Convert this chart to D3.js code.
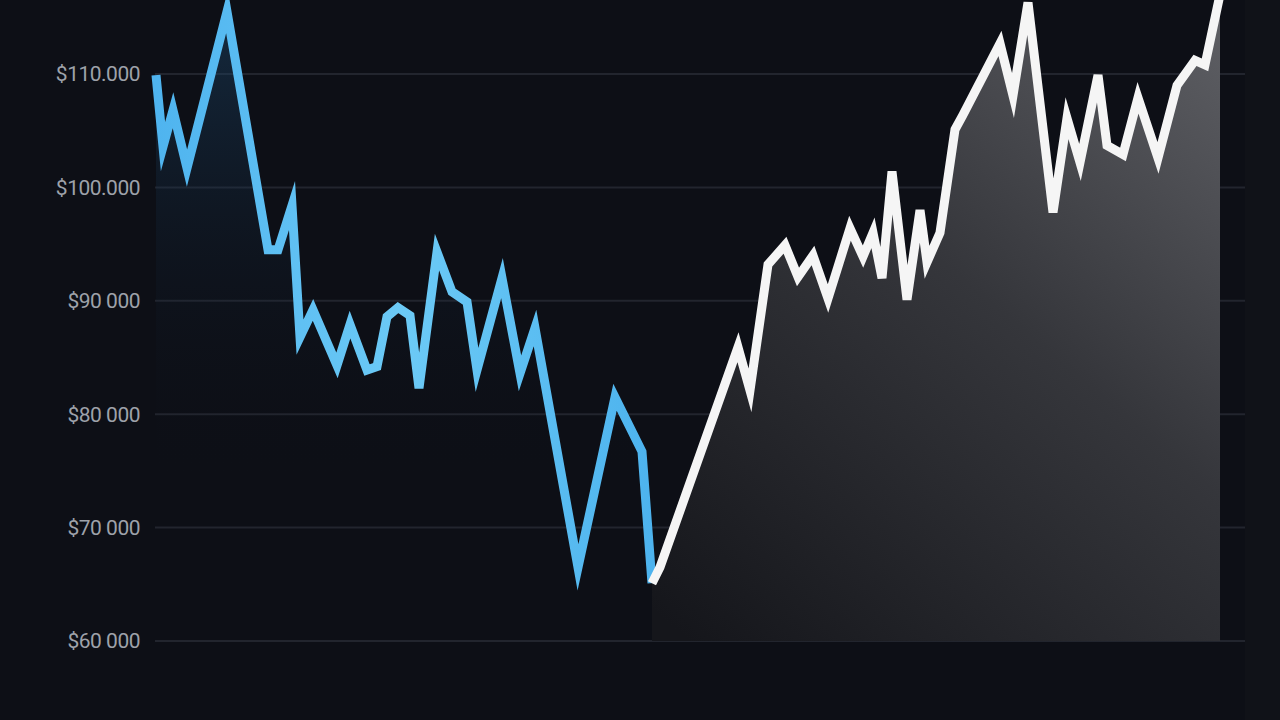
<!DOCTYPE html>
<html>
<head>
<meta charset="utf-8">
<script src="https://cdn.jsdelivr.net/npm/d3@7"></script>
<style>
html,body{margin:0;padding:0;background:#0d0f16;}
svg{display:block;}
</style>
</head>
<body>
<svg id="chart" width="1280" height="720"></svg>
<script>
// ---- data (values in thousands of dollars, t = trading-day offset) ----
const tickValues = [110, 100, 90, 80, 70, 60];
const tickLabels = ["$110.000", "$100.000", "$90 000", "$80 000", "$70 000", "$60 000"];

const downDays = [0,7,17,31,71,112,122,136,144,157,181,194,211,221,231,242,254,263,281,296,311,321,346,364,379,422,459,486,496];
const downValues = [109.9,103.6,106.8,101.7,115.5,94.5,94.5,98.4,86.8,89.2,84.3,87.9,83.9,84.2,88.6,89.4,88.7,82.3,94.3,90.8,89.9,83.9,92.0,83.6,87.6,66.5,81.5,76.7,65.1];

const upDays = [496,504,582,594,612,629,642,657,672,694,707,717,726,736,751,764,771,784,799,807,844,857,872,897,911,924,942,951,967,982,1002,1021,1039,1049,1064];
const upValues = [65.1,66.5,85.9,82.1,93.2,94.9,92.1,94.0,90.2,96.4,93.9,96.0,92.0,101.4,90.1,98.0,93.4,96.0,105.1,106.4,112.7,108.1,116.3,97.8,106.1,102.2,109.9,103.7,102.9,107.9,102.6,109.0,111.2,110.8,117.0];

const downSeries = downDays.map((d, i) => ({t: d, v: downValues[i]}));
const upSeries = upDays.map((d, i) => ({t: d, v: upValues[i]}));

const svg = d3.select("#chart");
const W = 1280, H = 720;

const x = d3.scaleLinear().domain([0, 1064]).range([156, 1220]);
const y = d3.scaleLinear().domain([60, 110]).range([641, 74]);

// background
svg.append("rect").attr("width", W).attr("height", H).attr("fill", "#0d0f16");
svg.append("rect").attr("x", 1245).attr("width", 35).attr("height", H).attr("fill", "#101218");

const defs = svg.append("defs");
const gUp = defs.append("linearGradient").attr("id", "upFill")
  .attr("gradientUnits", "userSpaceOnUse")
  .attr("x1", 1230).attr("y1", 20).attr("x2", 700).attr("y2", 650);
gUp.append("stop").attr("offset", "0").attr("stop-color", "#5e5f64");
gUp.append("stop").attr("offset", "0.45").attr("stop-color", "#35363b");
gUp.append("stop").attr("offset", "1").attr("stop-color", "#15161b");

const gDown = defs.append("linearGradient").attr("id", "downFill")
  .attr("gradientUnits", "userSpaceOnUse")
  .attr("x1", 0).attr("y1", 40).attr("x2", 0).attr("y2", 480);
gDown.append("stop").attr("offset", "0").attr("stop-color", "#1d4a70").attr("stop-opacity", 0.4);
gDown.append("stop").attr("offset", "0.5").attr("stop-color", "#15304a").attr("stop-opacity", 0.15);
gDown.append("stop").attr("offset", "1").attr("stop-color", "#0d0f16").attr("stop-opacity", 0);

const gLine = defs.append("linearGradient").attr("id", "blueLine")
  .attr("gradientUnits", "userSpaceOnUse")
  .attr("x1", 156).attr("y1", 0).attr("x2", 652).attr("y2", 0);
gLine.append("stop").attr("offset", "0").attr("stop-color", "#4fb4ef");
gLine.append("stop").attr("offset", "0.5").attr("stop-color", "#6ccaf6");
gLine.append("stop").attr("offset", "1").attr("stop-color", "#4db3ee");

// gridlines
svg.append("g").selectAll("line").data(tickValues).join("line")
  .attr("x1", 155).attr("x2", 1245)
  .attr("y1", d => y(d)).attr("y2", d => y(d))
  .attr("stroke", "#22252e").attr("stroke-width", 2);

// axis labels
svg.append("g").selectAll("text").data(tickValues).join("text")
  .attr("x", 140).attr("y", d => y(d))
  .attr("dy", "0.35em")
  .attr("text-anchor", "end")
  .attr("font-family", "Roboto, 'DejaVu Sans', sans-serif")
  .attr("font-size", 21)
  .attr("letter-spacing", "-0.5")
  .attr("fill", "#9ea2aa")
  .text((d, i) => tickLabels[i]);

const area = d3.area().x(d => x(d.t)).y0(y(60)).y1(d => y(d.v));
const line = d3.line().x(d => x(d.t)).y(d => y(d.v));

svg.append("path").datum(downSeries).attr("d", area).attr("fill", "url(#downFill)");
svg.append("path").datum(upSeries).attr("d", area).attr("fill", "url(#upFill)");

svg.append("path").datum(downSeries).attr("d", line)
  .attr("fill", "none").attr("stroke", "url(#blueLine)")
  .attr("stroke-width", 9).attr("stroke-linejoin", "miter").attr("stroke-miterlimit", 6);
svg.append("path").datum(upSeries).attr("d", line)
  .attr("fill", "none").attr("stroke", "#f5f5f5")
  .attr("stroke-width", 9).attr("stroke-linejoin", "miter").attr("stroke-miterlimit", 6);
</script>
</body>
</html>
